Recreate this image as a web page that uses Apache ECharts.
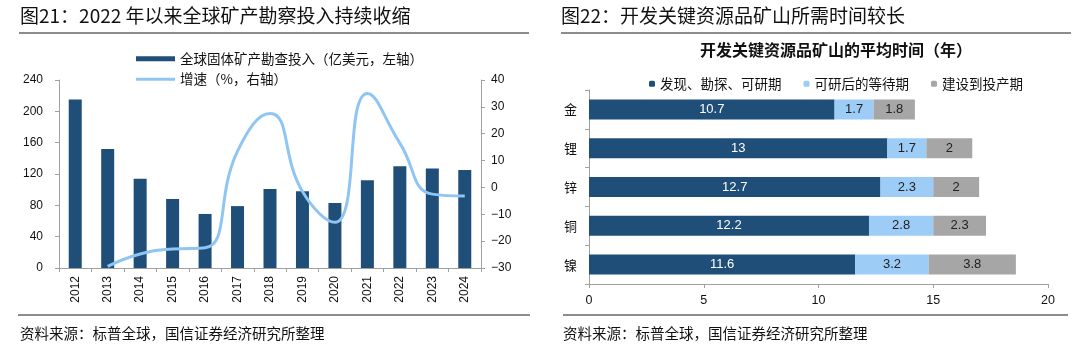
<!DOCTYPE html>
<html>
<head>
<meta charset="utf-8">
<script src="https://cdn.jsdelivr.net/npm/echarts@6/dist/echarts.min.js"></script>
<style>
  html, body { margin: 0; padding: 0; background: #fff; }
  #chart { width: 1080px; height: 352px; }
</style>
</head>
<body>
<div id="chart"></div>
<script>
// 图21 数据
var years = ['2012', '2013', '2014', '2015', '2016', '2017', '2018', '2019', '2020', '2021', '2022', '2023', '2024']
var investment = [215, 152, 114, 88, 69, 79, 101, 98, 83, 112, 130, 127, 125]
var growth = ['-', -29.4, -24.8, -22.9, -22.5, 13.5, 27.5, -1.5, -13, 35, 16.5, -2.5, -3.2]

// 图22 数据
var metals = ['金', '锂', '锌', '铜', '镍']
var explore = [10.7, 13, 12.7, 12.2, 11.6]
var waiting = [1.7, 1.7, 2.3, 2.8, 3.2]
var build = [1.8, 2, 2, 2.3, 3.8]

var FONT = "'Liberation Sans', 'Noto Sans CJK SC', sans-serif"
var CJK = "'Noto Sans CJK SC', sans-serif"
var DARK = '#1f4e79'
var LIGHT = '#9dcdf7'
var GREY = '#a6a6a6'
var LINE = '#8fc5f3'
var AXIS = '#a0a0a0'

var myChart = echarts.init(document.getElementById('chart'))

function rule(x1, x2, y) {
  return {
    type: 'line',
    shape: { x1: x1, y1: y, x2: x2, y2: y },
    style: { stroke: '#666', lineWidth: 1.5 },
    silent: true
  }
}
function note(x, y, text, size, weight) {
  return {
    type: 'text',
    x: x, y: y,
    style: {
      text: text,
      font: (weight || 'normal') + ' ' + size + 'px ' + CJK,
      fill: '#111',
      textVerticalAlign: 'middle'
    },
    silent: true
  }
}

var option = {
  animation: false,
  textStyle: { fontFamily: FONT },
  title: [{
    text: '开发关键资源品矿山的平均时间（年）',
    left: 836, top: 42, textAlign: 'center', padding: 0,
    textStyle: { fontFamily: CJK, fontSize: 16, fontWeight: 'bold', color: '#111' }
  }],
  graphic: [
    note(20, 16, '图21：2022 年以来全球矿产勘察投入持续收缩', 19),
    note(561, 16, '图22：开发关键资源品矿山所需时间较长', 19),
    rule(19, 529, 33),
    rule(561, 1071, 33),
    rule(18, 530, 315),
    rule(563, 1068, 315),
    note(20, 333, '资料来源：标普全球，国信证券经济研究所整理', 14.5),
    note(563, 333, '资料来源：标普全球，国信证券经济研究所整理', 14.5)
  ],
  legend: [{
    orient: 'vertical',
    left: 131, top: 47,
    itemWidth: 39, itemHeight: 5, itemGap: 7,
    textStyle: { fontFamily: CJK, fontSize: 13.5, color: '#111' },
    data: [
      { name: '全球固体矿产勘查投入（亿美元，左轴）', icon: 'rect' },
      { name: '增速（%，右轴）', icon: 'path://M0,1 L39,1 L39,4 L0,4 Z' }
    ]
  }, {
    left: 644, top: 72,
    itemWidth: 6, itemHeight: 6, itemGap: 22,
    textStyle: { fontFamily: CJK, fontSize: 13.5, color: '#111' },
    data: ['发现、勘探、可研期', '可研后的等待期', '建设到投产期']
  }],
  grid: [
    { left: 59, right: 599, top: 80, bottom: 84 },
    { left: 589, right: 32, top: 90, bottom: 68 }
  ],
  xAxis: [{
    type: 'category', gridIndex: 0, data: years,
    axisLine: { lineStyle: { color: AXIS } },
    axisTick: { show: true, length: 4, lineStyle: { color: AXIS } },
    axisLabel: { rotate: 90, color: '#111', fontSize: 12, margin: 8 }
  }, {
    type: 'value', gridIndex: 1, min: 0, max: 20, interval: 5,
    splitLine: { show: false },
    axisLine: { show: true, lineStyle: { color: AXIS } },
    axisTick: { show: true, length: 4, lineStyle: { color: AXIS } },
    axisLabel: { color: '#111', fontSize: 12.5, margin: 10 }
  }],
  yAxis: [{
    type: 'value', gridIndex: 0, min: 0, max: 240, interval: 40,
    splitLine: { show: false },
    axisLine: { show: true, lineStyle: { color: AXIS } },
    axisTick: { show: true, length: 4, lineStyle: { color: AXIS } },
    axisLabel: { color: '#111', fontSize: 12, margin: 16 }
  }, {
    type: 'value', gridIndex: 0, position: 'right', min: -30, max: 40, interval: 10,
    splitLine: { show: false },
    axisLine: { show: true, lineStyle: { color: AXIS } },
    axisTick: { show: true, length: 4, lineStyle: { color: AXIS } },
    axisLabel: {
      color: '#111', fontSize: 12, margin: 10,
      formatter: function (v) { return String(v).replace('-', '\u2212') }
    }
  }, {
    type: 'category', gridIndex: 1, data: metals, inverse: true,
    axisLine: { show: true, lineStyle: { color: AXIS } },
    axisTick: { show: true, length: 4, lineStyle: { color: AXIS } },
    axisLabel: { color: '#111', fontSize: 13, margin: 12, fontFamily: CJK }
  }],
  series: [{
    name: '全球固体矿产勘查投入（亿美元，左轴）',
    type: 'bar', xAxisIndex: 0, yAxisIndex: 0,
    barWidth: 13,
    itemStyle: { color: DARK },
    data: investment
  }, {
    name: '增速（%，右轴）',
    type: 'line', xAxisIndex: 0, yAxisIndex: 1,
    smooth: 0.5, symbol: 'none',
    lineStyle: { color: LINE, width: 3 },
    itemStyle: { color: LINE },
    data: growth
  }, {
    name: '发现、勘探、可研期',
    type: 'bar', xAxisIndex: 1, yAxisIndex: 2, stack: 'time',
    barWidth: 20,
    itemStyle: { color: DARK },
    label: { show: true, position: 'inside', color: '#fff', fontSize: 13 },
    data: explore
  }, {
    name: '可研后的等待期',
    type: 'bar', xAxisIndex: 1, yAxisIndex: 2, stack: 'time',
    barWidth: 20,
    itemStyle: { color: LIGHT },
    label: { show: true, position: 'inside', color: '#222', fontSize: 13 },
    data: waiting
  }, {
    name: '建设到投产期',
    type: 'bar', xAxisIndex: 1, yAxisIndex: 2, stack: 'time',
    barWidth: 20,
    itemStyle: { color: GREY },
    label: { show: true, position: 'inside', color: '#222', fontSize: 13 },
    data: build
  }]
}

myChart.setOption(option)
window.onresize = function () { myChart.resize() }
</script>
</body>
</html>
